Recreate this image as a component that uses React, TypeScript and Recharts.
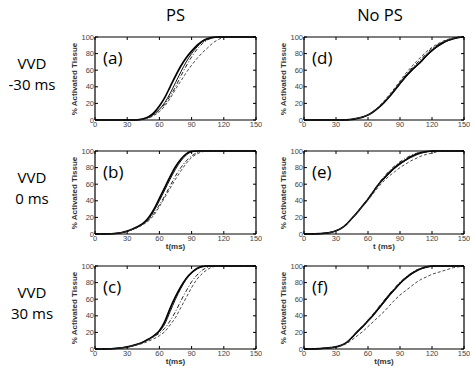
import { LineChart, Line, XAxis, YAxis } from "recharts"

// time axis (ms), sampled every 5 ms
const T = [0, 5, 10, 15, 20, 25, 30, 35, 40, 45, 50, 55, 60, 65, 70, 75, 80, 85, 90, 95, 100, 105, 110, 115, 120, 125, 130, 135, 140, 145, 150]
const X_TICKS = [0, 30, 60, 90, 120, 150]
const Y_TICKS = [0, 20, 40, 60, 80, 100]

// (a) PS, VVD -30 ms
const A1 = [0, 0, 0, 0, 0, 0, 0, 0, 0.3, 1.5, 4, 9, 17, 27, 40, 53, 65, 75, 83, 90, 95, 98, 99.6, 100, 100, 100, 100, 100, 100, 100, 100]
const A2 = [0, 0, 0, 0, 0, 0, 0, 0, 0.2, 1, 3, 7, 13, 21, 32, 45, 58, 70, 80, 88, 94, 97.5, 99.3, 100, 100, 100, 100, 100, 100, 100, 100]
const A3 = [0, 0, 0, 0, 0, 0, 0, 0, 0.2, 1, 3, 6.5, 12, 19, 29, 40, 53, 65, 76, 85, 92, 96.5, 99, 100, 100, 100, 100, 100, 100, 100, 100]
const A4 = [0, 0, 0, 0, 0, 0, 0, 0, 0.2, 1, 2.5, 5.5, 10, 17, 26, 37, 47, 57, 66, 74, 81, 87, 93, 97, 99.5, 100, 100, 100, 100, 100, 100]

// (b) PS, VVD 0 ms
const B1 = [0, 0, 0.1, 0.3, 0.8, 1.8, 3.5, 6, 9, 13, 20, 30, 43, 56, 69, 81, 90, 96.5, 99.5, 100, 100, 100, 100, 100, 100, 100, 100, 100, 100, 100, 100]
const B2 = [0, 0, 0.1, 0.3, 0.8, 1.7, 3.3, 5.7, 8.5, 12.5, 18, 28, 40, 53, 66, 78, 88, 95, 99, 100, 100, 100, 100, 100, 100, 100, 100, 100, 100, 100, 100]
const B3 = [0, 0, 0.1, 0.3, 0.8, 1.7, 3.2, 5.5, 8.2, 12, 17, 25, 35, 46, 58, 70, 80, 88, 94, 98, 99.7, 100, 100, 100, 100, 100, 100, 100, 100, 100, 100]
const B4 = [0, 0, 0.1, 0.3, 0.7, 1.6, 3.1, 5.3, 8, 11.5, 16, 23, 33, 44, 55, 66, 76, 85, 92, 96.5, 99, 100, 100, 100, 100, 100, 100, 100, 100, 100, 100]

// (c) PS, VVD 30 ms
const C1 = [0, 0, 0.1, 0.3, 0.8, 1.5, 2.5, 4, 6, 8.5, 12, 16, 22, 33, 49, 63, 75, 85, 92, 97, 99.5, 100, 100, 100, 100, 100, 100, 100, 100, 100, 100]
const C2 = [0, 0, 0.1, 0.3, 0.8, 1.5, 2.5, 4, 6, 8.5, 12, 16, 21, 30, 45, 60, 73, 84, 91.5, 96.5, 99, 100, 100, 100, 100, 100, 100, 100, 100, 100, 100]
const C3 = [0, 0, 0.1, 0.3, 0.7, 1.4, 2.3, 3.7, 5.5, 7.8, 11, 15, 19, 25, 34, 45, 58, 70, 81, 89, 95, 98.5, 100, 100, 100, 100, 100, 100, 100, 100, 100]
const C4 = [0, 0, 0, 0.3, 0.7, 1.3, 2.2, 3.5, 5, 7, 9.5, 12.5, 16, 21, 29, 38, 50, 62, 74, 84, 91, 96, 99, 100, 100, 100, 100, 100, 100, 100, 100]

// (d) No PS, VVD -30 ms
const D1 = [0, 0, 0, 0, 0, 0, 0, 0, 0.2, 0.8, 2, 3.5, 6, 10, 15, 21, 28, 36, 44, 52, 59, 65, 71, 78, 84, 89, 93, 96, 98, 99.5, 100]
const D2 = [0, 0, 0, 0, 0, 0, 0, 0, 0.2, 0.8, 2, 3.5, 6, 10, 15, 21, 28, 35.5, 43.5, 51, 58, 64, 70, 77, 83, 88, 92, 95.5, 97.8, 99.3, 100]
const D3 = [0, 0, 0, 0, 0, 0, 0, 0, 0.2, 0.8, 2, 3.6, 6.2, 10.3, 15.5, 22, 29, 37, 45.5, 53.5, 61, 67.5, 74, 80.5, 86, 90.5, 94, 96.8, 98.5, 99.6, 100]
const D4 = [0, 0, 0, 0, 0, 0, 0, 0, 0.2, 0.9, 2.1, 3.8, 6.5, 10.8, 16.2, 23, 30.5, 38.5, 47, 55.5, 63, 70, 76.5, 82.5, 87.5, 91.5, 94.8, 97.2, 98.8, 99.7, 100]

// (e) No PS, VVD 0 ms
const E1 = [0, 0, 0.2, 0.5, 1, 2, 4, 7, 12, 19, 26, 34, 42, 51, 60, 67, 74, 80, 85, 89, 93, 96, 98, 99.3, 100, 100, 100, 100, 100, 100, 100]
const E2 = [0, 0, 0.2, 0.5, 1, 2, 4, 7, 12, 19, 26, 34, 42, 51, 59.5, 66.5, 73, 79, 84, 88.5, 92, 95, 97.5, 99, 99.8, 100, 100, 100, 100, 100, 100]
const E3 = [0, 0, 0.2, 0.5, 1, 2, 4, 7, 12, 19, 26.5, 35, 43, 52, 61, 69, 76, 82, 87, 91, 94.5, 97, 98.8, 99.6, 100, 100, 100, 100, 100, 100, 100]
const E4 = [0, 0, 0.2, 0.5, 1, 2, 4, 7, 12, 19, 26, 33.5, 41, 49, 57, 64, 70, 75, 80, 84, 88, 91, 94, 96, 97.5, 99, 100, 100, 100, 100, 100]

// (f) No PS, VVD 30 ms
const F1 = [0, 0, 0.2, 0.5, 1, 1.6, 2.5, 4.5, 8, 14, 21, 27, 34, 41, 49, 57, 65, 72, 79, 85, 90, 94, 97, 99, 100, 100, 100, 100, 100, 100, 100]
const F2 = [0, 0, 0.2, 0.5, 1, 1.6, 2.5, 4.4, 7.8, 13.5, 20.5, 26.5, 33.5, 40.5, 48, 56, 64, 71.5, 78.5, 84.5, 89.5, 93.5, 96.5, 98.5, 99.6, 100, 100, 100, 100, 100, 100]
const F3 = [0, 0, 0.2, 0.5, 1, 1.6, 2.6, 4.6, 8.2, 14.3, 21.5, 28, 35, 42.5, 50.5, 58.5, 66.5, 73.5, 80.5, 86, 91, 95, 97.5, 99.2, 100, 100, 100, 100, 100, 100, 100]
const F4 = [0, 0, 0, 0.4, 0.8, 1.4, 2.2, 3.8, 6.5, 11, 16, 21, 27, 33, 39, 45, 52, 59, 65, 70, 75, 80, 84, 87, 90, 92, 94, 96, 98, 99, 100]

const COL_TITLES = ["PS", "No PS"]
const ROW_LABELS = [["VVD", "-30 ms"], ["VVD", "0 ms"], ["VVD", "30 ms"]]
const Y_LABEL = "% Activated Tissue"

// ── layout ──────────────────────────────────────────────
const COL_LEFT = [95, 304]
const COL_W = [161, 160]
const ROW_TOP = [37, 151, 266]
const PLOT_H = 83

const LINE_STYLES = [
  { width: 1.7, dash: undefined, color: "#000" },
  { width: 1.0, dash: undefined, color: "#111" },
  { width: 1.0, dash: "4 2 1 2", color: "#222" },
  { width: 0.9, dash: "3 2", color: "#333" },
]

const PANELS = [
  { label: "(a)", col: 0, row: 0, series: [A1, A2, A3, A4], xLabel: "" },
  { label: "(b)", col: 0, row: 1, series: [B1, B2, B3, B4], xLabel: "t(ms)" },
  { label: "(c)", col: 0, row: 2, series: [C1, C2, C3, C4], xLabel: "t(ms)" },
  { label: "(d)", col: 1, row: 0, series: [D1, D2, D3, D4], xLabel: "" },
  { label: "(e)", col: 1, row: 1, series: [E1, E2, E3, E4], xLabel: "t (ms)" },
  { label: "(f)", col: 1, row: 2, series: [F1, F2, F3, F4], xLabel: "t(ms)" },
]

const tickStyle = { fontSize: 7.5, fill: "#444", fontFamily: "'Liberation Sans', Arial, sans-serif" }
const axisStroke = { stroke: "#000", strokeWidth: 1.2 }
const noTick = () => null

function Panel({ series, left, top, w }: { series: number[][]; left: number; top: number; w: number }) {
  const data = T.map((t, i) => {
    const row: Record<string, number> = { t }
    series.forEach((s, k) => { row["s" + k] = s[i] })
    return row
  })
  return (
    <div style={{ position: "absolute", left: left - 30, top: top - 4 }}>
      <LineChart width={w + 30 + 6} height={PLOT_H + 4 + 14} data={data} margin={{ top: 3, right: 5, bottom: 0, left: 0 }}>
        <XAxis dataKey="t" type="number" domain={[0, 150]} ticks={X_TICKS} interval={0} height={14}
          tickSize={-3} tickMargin={4.5} tick={tickStyle} axisLine={axisStroke} tickLine={{ stroke: "#000" }} />
        <XAxis xAxisId="top" orientation="top" dataKey="t" type="number" domain={[0, 150]} ticks={X_TICKS} interval={0}
          height={1} tickSize={-3} tick={noTick} axisLine={axisStroke} tickLine={{ stroke: "#000" }} allowDataOverflow />
        <YAxis type="number" domain={[0, 100]} ticks={Y_TICKS} interval={0} width={30}
          tickSize={-3} tickMargin={4} tick={tickStyle} axisLine={axisStroke} tickLine={{ stroke: "#000" }} />
        <YAxis yAxisId="right" orientation="right" type="number" domain={[0, 100]} ticks={Y_TICKS} interval={0} width={1}
          tickSize={-3} tick={noTick} axisLine={axisStroke} tickLine={{ stroke: "#000" }} allowDataOverflow />
        {series.map((_, k) => {
          const st = LINE_STYLES[k]
          return (
            <Line key={k} type="monotone" dataKey={"s" + k} stroke={st.color} strokeWidth={st.width}
              strokeDasharray={st.dash} dot={false} activeDot={false} isAnimationActive={false} />
          )
        })}
      </LineChart>
    </div>
  )
}

const bigFont = "'Open Sans', 'Noto Sans', sans-serif"
const smallBold = { fontFamily: "'Liberation Sans', Arial, sans-serif", fontSize: 8, fontWeight: 700, color: "#333" }
const ROW_LINE = 21

export default function App() {
  return (
    <div style={{ position: "absolute", left: 0, top: 0, width: 474, height: 372, background: "#fff", overflow: "hidden" }}>
      {COL_TITLES.map((t, c) => (
        <div key={t} style={{ position: "absolute", left: COL_LEFT[c] + COL_W[c] / 2 - 60 + (c === 1 ? -4 : 0), top: 4, width: 120, textAlign: "center", fontFamily: bigFont, fontSize: 16.5, lineHeight: "22px", color: "#000" }}>{t}</div>
      ))}
      {ROW_LABELS.map((lines, r) =>
        lines.map((l, j) => (
          <div key={r + "-" + j} style={{ position: "absolute", left: 0, width: 64, height: ROW_LINE, top: ROW_TOP[r] + PLOT_H / 2 - 5 - ROW_LINE + j * ROW_LINE, textAlign: "center", fontFamily: bigFont, fontSize: 15, lineHeight: ROW_LINE + "px", color: "#000" }}>{l}</div>
        ))
      )}
      {PANELS.map((p) => {
        const left = COL_LEFT[p.col]
        const top = ROW_TOP[p.row]
        const w = COL_W[p.col]
        return (
          <div key={p.label}>
            <Panel series={p.series} left={left} top={top} w={w} />
            <div style={{ position: "absolute", left: left + 8, top: top + 20.5 - 12, fontFamily: bigFont, fontSize: 17, lineHeight: "24px", color: "#000" }}>{p.label}</div>
            <div style={{ position: "absolute", left: left - 20 - 50, top: top + PLOT_H / 2 - 5, width: 100, height: 10, textAlign: "center", lineHeight: "10px", transform: "rotate(-90deg)", ...smallBold }}>{Y_LABEL}</div>
            {p.xLabel && (
              <div style={{ position: "absolute", left: left + w / 2 - 30, top: top + PLOT_H + 8, width: 60, textAlign: "center", lineHeight: "10px", ...smallBold }}>{p.xLabel}</div>
            )}
          </div>
        )
      })}
    </div>
  )
}
